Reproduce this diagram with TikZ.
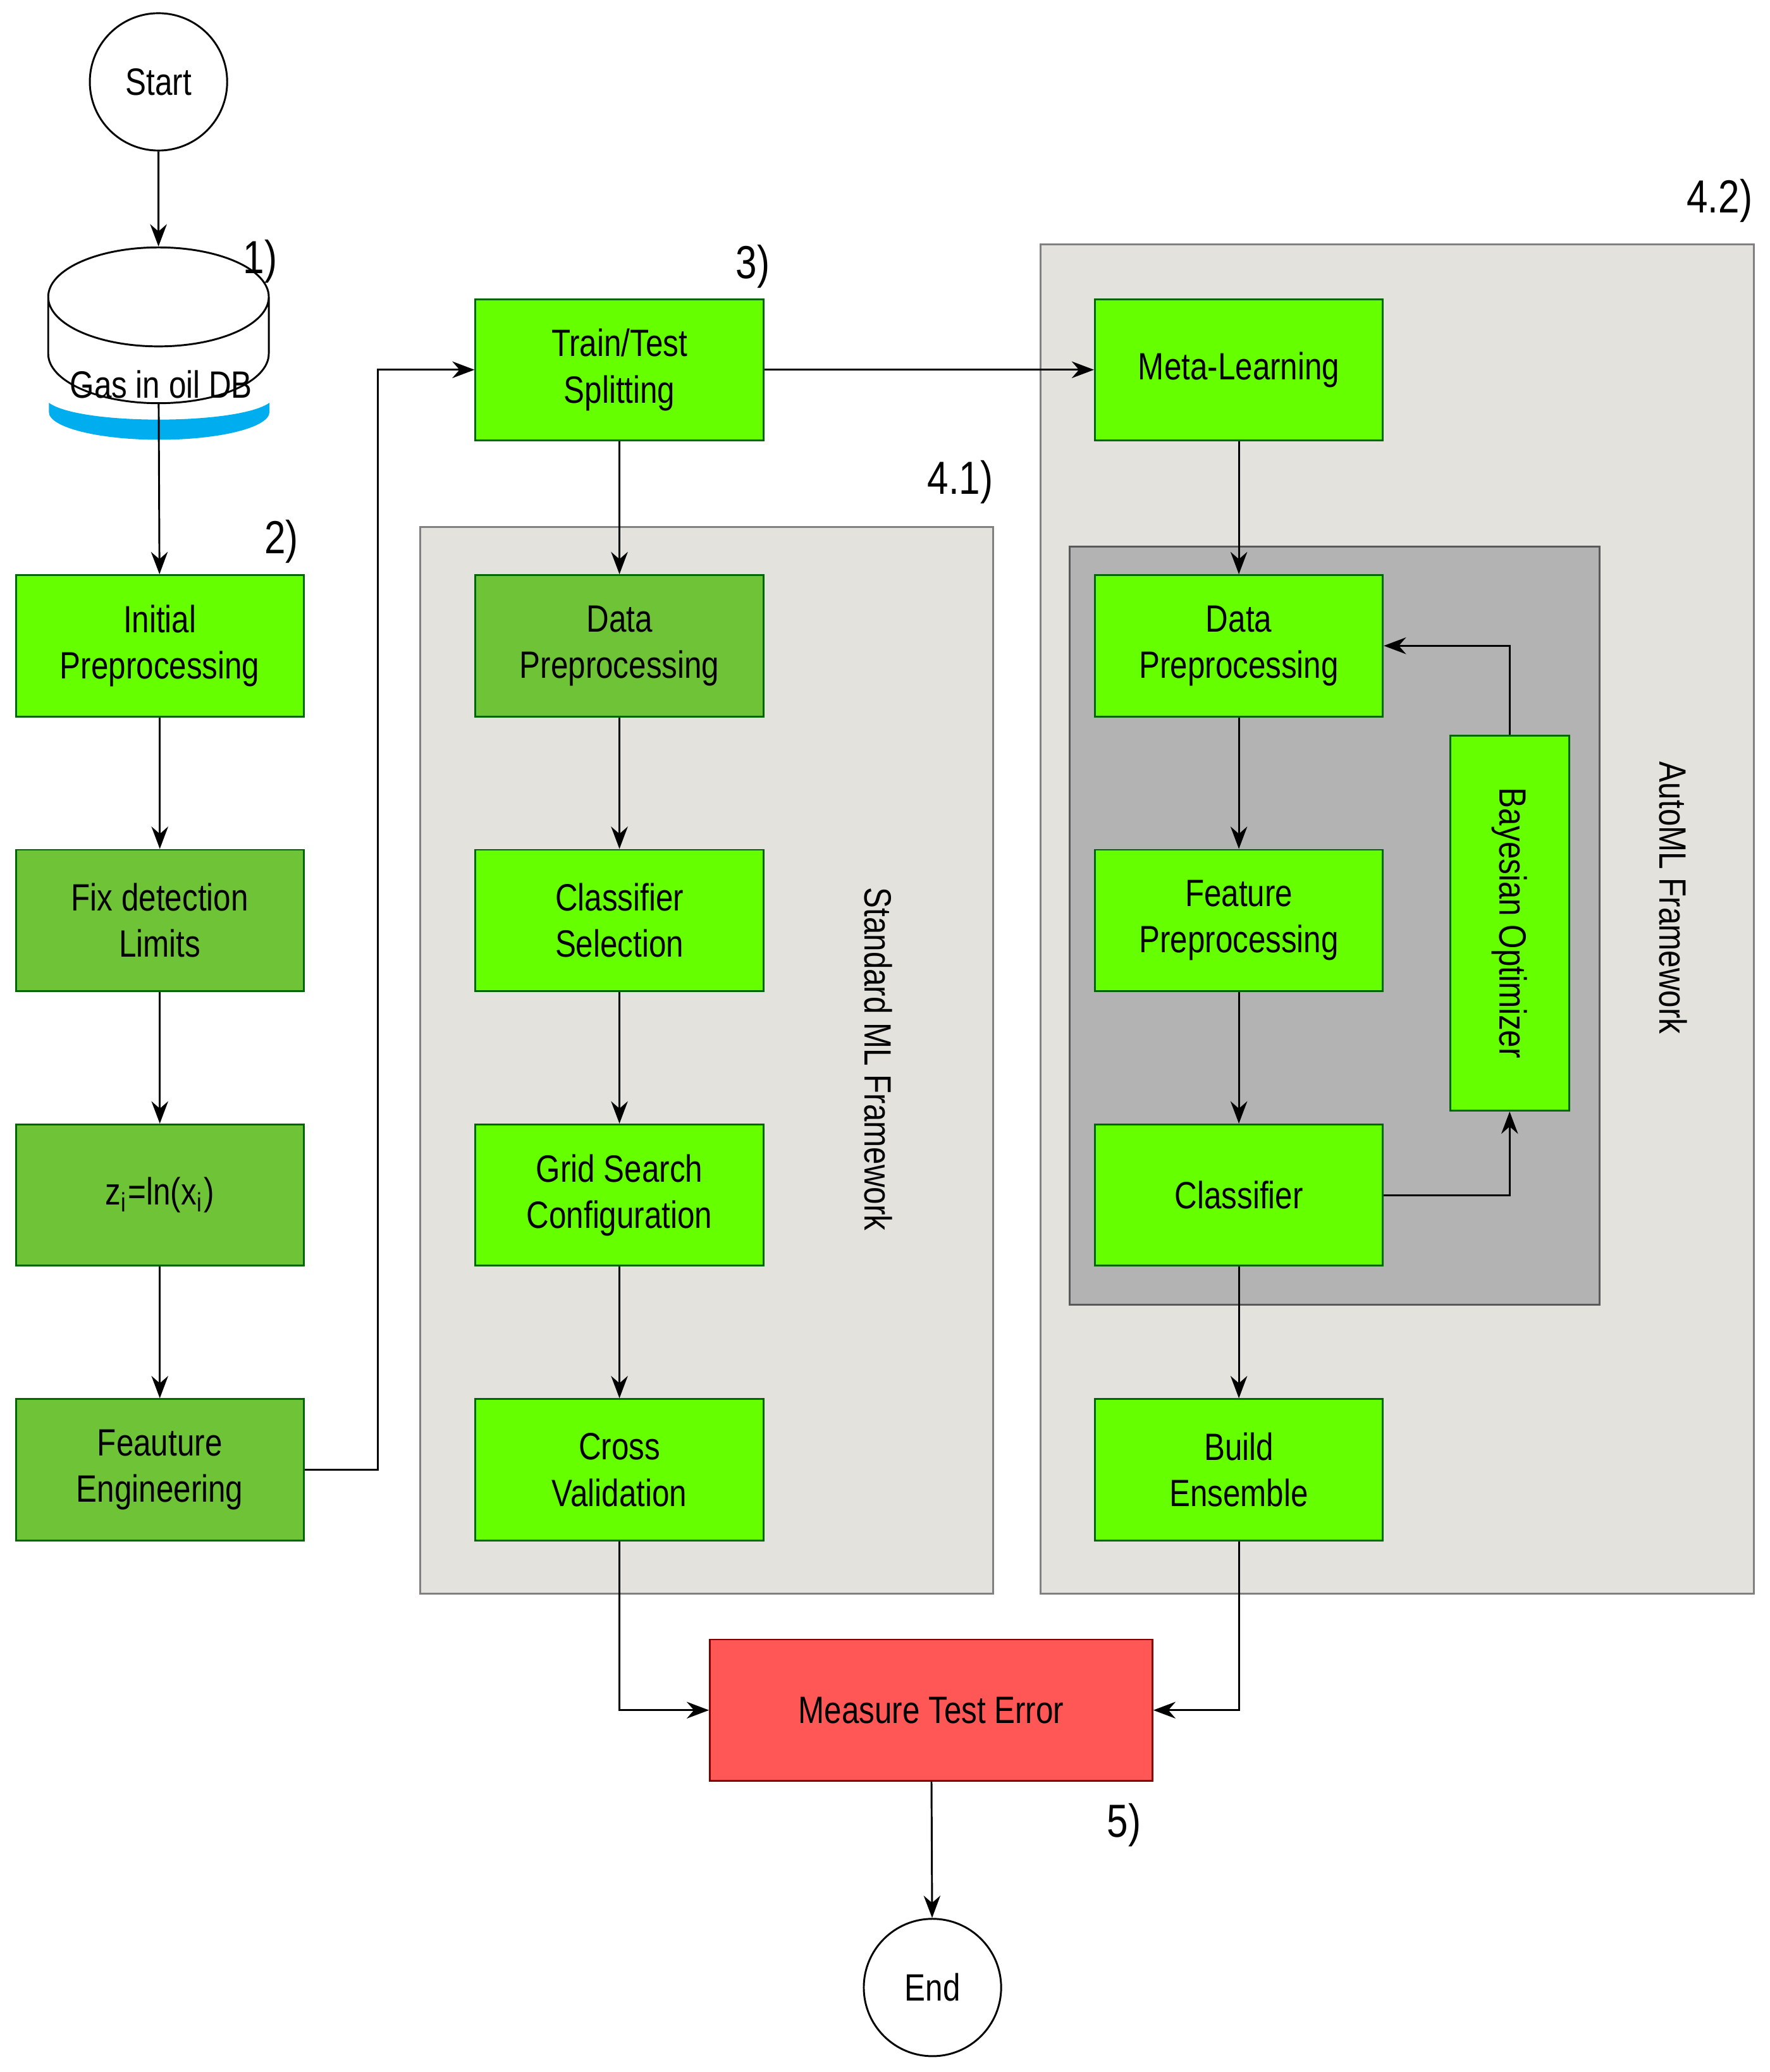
\documentclass[tikz,border=0pt]{standalone}
\usepackage{fontspec}
\setmainfont{Liberation Sans}[FakeStretch=0.82]
\usetikzlibrary{shapes.geometric,arrows.meta}
\definecolor{lime}{HTML}{66FF00}
\definecolor{moss}{HTML}{6FC337}
\definecolor{panel}{HTML}{E3E2DC}
\definecolor{inner}{HTML}{B3B3B3}
\definecolor{errred}{HTML}{FF5656}
\begin{document}
\begin{tikzpicture}[x=0.1mm,y=-0.1mm,>=Stealth,font=\fontsize{8.2}{10}\selectfont,
    proc/.style={draw=green!40!black,fill=lime,minimum width=21.8mm,minimum height=10.7mm,align=center,inner sep=0pt},
    dproc/.style={proc,fill=moss},
    term/.style={circle,draw,minimum size=10.4mm},
    tag/.style={font=\fontsize{10}{12}\selectfont}]
      \useasboundingbox (0,0) rectangle (1340,1569);
      % panels
      \draw[gray,fill=panel] (318,399) rectangle (752,1207);
      \draw[gray,fill=panel] (788,185) rectangle (1328,1207);
      \draw[gray!70!black,fill=inner] (810,414) rectangle (1211,988);
      \node[rotate=-90] (std) at (665,802) {Standard ML Framework};
      \node[rotate=-90] (aml) at (1267,680) {AutoML Framework};
      % left column
      \node[term]  (start) at (120,62)   {Start};
      \node[cylinder,shape border rotate=90,draw,fill=white,minimum width=16.7mm,minimum height=11.8mm,aspect=3.2,
            cylinder uses custom fill,cylinder end fill=cyan,cylinder body fill=white] (db) at (120,275) {};
      \fill[cyan] (37,312) -- (37,305) .. controls (60,322) and (180,322) .. (204,305) -- (204,312)
            arc[start angle=0,end angle=-180,x radius=83.5,y radius=-21] -- cycle;
      \node (dbl) at (122,291) {Gas in oil DB};
      \node[proc]  (init)  at (121,489)  {Initial\\Preprocessing};
      \node[dproc] (fix)   at (121,697)  {Fix detection\\Limits};
      \node[dproc] (logz)  at (121,905)  {z\textsubscript{i}=ln(x\textsubscript{i})};
      \node[dproc] (feng)  at (121,1113) {Feauture\\Engineering};
      % middle column
      \node[proc]  (split) at (469,280)  {Train/Test\\Splitting};
      \node[dproc] (sprep) at (469,489)  {Data\\Preprocessing};
      \node[proc]  (csel)  at (469,697)  {Classifier\\Selection};
      \node[proc]  (grid)  at (469,905)  {Grid Search\\Configuration};
      \node[proc]  (cval)  at (469,1113) {Cross\\Validation};
      % right column
      \node[proc]  (meta)  at (938,280)  {Meta-Learning};
      \node[proc]  (aprep) at (938,489)  {Data\\Preprocessing};
      \node[proc]  (fprep) at (938,697)  {Feature\\Preprocessing};
      \node[proc]  (clf)   at (938,905)  {Classifier};
      \node[proc]  (ens)   at (938,1113) {Build\\Ensemble};
      \node[proc,minimum width=9mm,minimum height=28.4mm] (bayes) at (1143,699) {};
      \node[rotate=-90] (bayesl) at (1143,699) {Bayesian Optimizer};
      \node[draw=red!50!black,fill=errred,minimum width=33.5mm,minimum height=10.7mm] (err) at (705,1295) {Measure Test Error};
      \node[term]  (end)   at (706,1505) {End};
      % step tags
      \node[tag] (t1)  at (197,198)  {1)};
      \node[tag] (t2)  at (213,410)  {2)};
      \node[tag] (t3)  at (570,202)  {3)};
      \node[tag] (t41) at (727,365)  {4.1)};
      \node[tag] (t42) at (1302,152) {4.2)};
      \node[tag] (t5)  at (851,1382) {5)};

      \path[->] (start) edge (db)
                (db)    edge (init)
                (init)  edge (fix)
                (fix)   edge (logz)
                (logz)  edge (feng)
                (split) edge (meta)
                (split) edge (sprep)
                (sprep) edge (csel)
                (csel)  edge (grid)
                (grid)  edge (cval)
                (meta)  edge (aprep)
                (aprep) edge (fprep)
                (fprep) edge (clf)
                (clf)   edge (ens)
                (err)   edge (end);
      \draw[->] (feng.east) -| (286,1113) |- (split.west);
      \draw[->] (cval.south) |- (err.west);
      \draw[->] (ens.south) |- (err.east);
      \draw[->] (clf.east) -| (bayes.south);
      \draw[->] (bayes.north) |- (aprep.east);
\end{tikzpicture}
\end{document}
